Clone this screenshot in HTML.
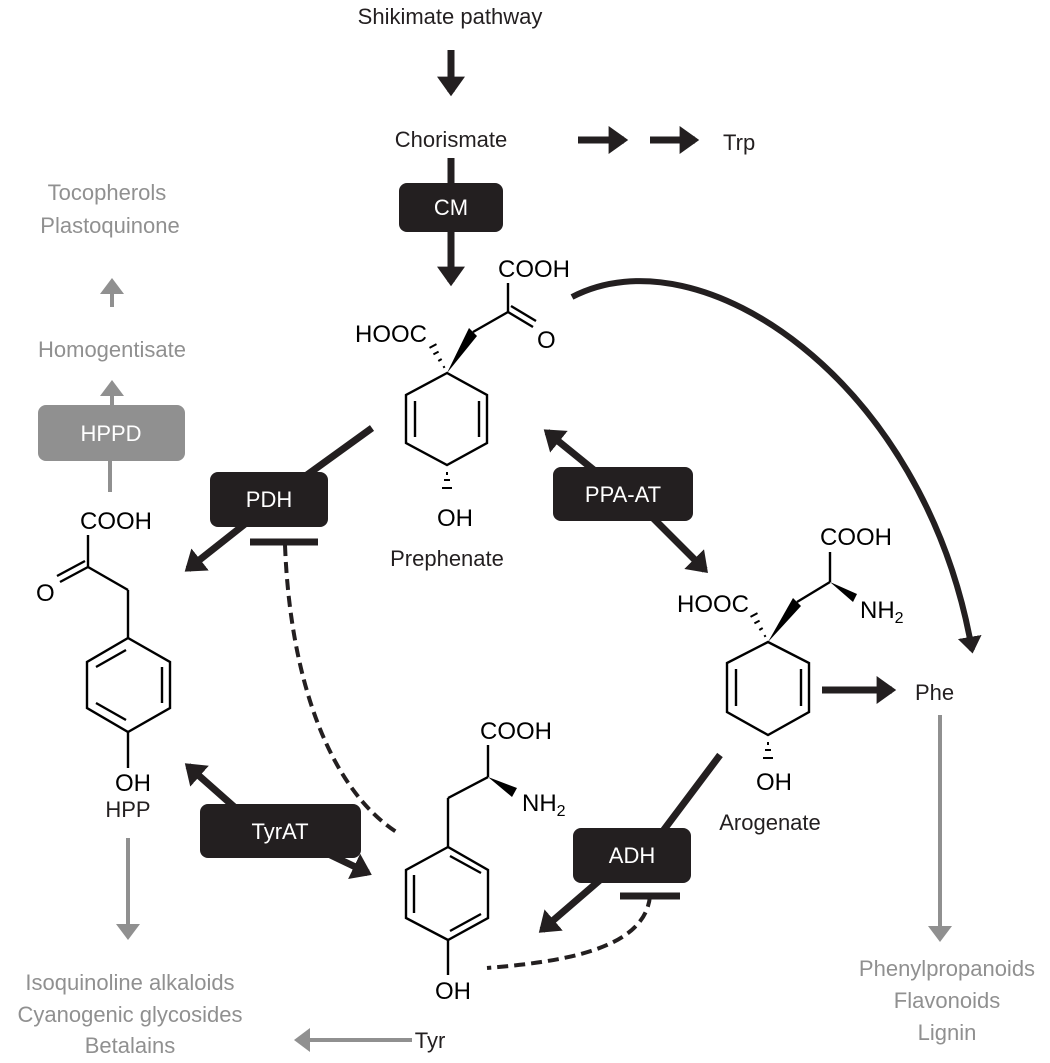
<!DOCTYPE html>
<html><head><meta charset="utf-8"><style>
html,body{margin:0;padding:0;background:#fff;}
svg{display:block;}
text{font-family:"Liberation Sans",sans-serif;}
</style></head><body>
<svg width="1050" height="1063" viewBox="0 0 1050 1063" xmlns="http://www.w3.org/2000/svg">
<defs>
<marker id="ah" markerWidth="4" markerHeight="4" refX="2.2" refY="2" orient="auto" markerUnits="strokeWidth"><path d="M0,0 L2.8,2 L0,4 Z" fill="#231f20"/></marker>
<marker id="ag" markerWidth="6" markerHeight="6" refX="3" refY="3" orient="auto" markerUnits="strokeWidth"><path d="M0,0 L4,3 L0,6 Z" fill="#909090"/></marker>
</defs>
<g fill="#231f20" font-size="22">
<text x="450" y="24" text-anchor="middle">Shikimate pathway</text>
<text x="451" y="147" text-anchor="middle">Chorismate</text>
<text x="723" y="150">Trp</text>
<text x="447" y="566" text-anchor="middle">Prephenate</text>
<text x="770" y="830" text-anchor="middle">Arogenate</text>
<text x="915" y="700">Phe</text>
<text x="128" y="817" text-anchor="middle">HPP</text>
<text x="430" y="1048" text-anchor="middle">Tyr</text>
</g>
<g fill="#909090" font-size="22" text-anchor="middle">
<text x="107" y="200">Tocopherols</text>
<text x="110" y="233">Plastoquinone</text>
<text x="112" y="357">Homogentisate</text>
<text x="947" y="976">Phenylpropanoids</text>
<text x="947" y="1008">Flavonoids</text>
<text x="947" y="1040">Lignin</text>
<text x="130" y="990">Isoquinoline alkaloids</text>
<text x="130" y="1022">Cyanogenic glycosides</text>
<text x="130" y="1053">Betalains</text>
</g>
<g stroke="#909090" stroke-width="4" fill="none">
<line x1="112" y1="307" x2="112" y2="282" marker-end="url(#ag)"/>
<line x1="112" y1="405" x2="112" y2="384" marker-end="url(#ag)"/>
<line x1="110" y1="461" x2="110" y2="492"/>
<line x1="940" y1="715" x2="940" y2="938" marker-end="url(#ag)"/>
<line x1="128" y1="838" x2="128" y2="936" marker-end="url(#ag)"/>
<line x1="412" y1="1040" x2="298" y2="1040" marker-end="url(#ag)"/>
</g>
<rect x="38" y="405" width="147" height="56" rx="8" fill="#909090"/>
<text x="111" y="441" fill="#fff" font-size="22" text-anchor="middle">HPPD</text>
<g stroke="#231f20" stroke-width="7" fill="none">
<line x1="451" y1="50" x2="451" y2="92" marker-end="url(#ah)"/>
<line x1="578" y1="140" x2="624" y2="140" marker-end="url(#ah)"/>
<line x1="650" y1="140" x2="695" y2="140" marker-end="url(#ah)"/>
<line x1="451" y1="158" x2="451" y2="282" marker-end="url(#ah)"/>
<line x1="822" y1="690" x2="892" y2="690" marker-end="url(#ah)"/>
<line x1="372" y1="428" x2="300" y2="480"/>
<line x1="250" y1="520" x2="188" y2="569" marker-end="url(#ah)"/>
<line x1="250" y1="542" x2="318" y2="542"/>
<line x1="600" y1="475" x2="547" y2="432" marker-end="url(#ah)"/>
<line x1="650" y1="515" x2="705" y2="570" marker-end="url(#ah)"/>
<line x1="240" y1="812" x2="188" y2="766" marker-end="url(#ah)"/>
<line x1="320" y1="850" x2="368" y2="873" marker-end="url(#ah)"/>
<line x1="720" y1="755" x2="660" y2="835"/>
<line x1="600" y1="880" x2="542" y2="930" marker-end="url(#ah)"/>
<line x1="620" y1="896" x2="680" y2="896"/>
<path d="M572,297 C700,230 925,380 972,650" stroke-width="6" marker-end="url(#ah)"/>
</g>
<g stroke="#231f20" stroke-width="4" fill="none" stroke-dasharray="11,6">
<path d="M285,545 C290,680 330,790 398,833"/>
<path d="M650,896 C645,950 560,962 487,968"/>
</g>
<g fill="#231f20">
<rect x="399" y="183" width="104" height="49" rx="8"/>
<rect x="210" y="472" width="118" height="55" rx="8"/>
<rect x="553" y="467" width="140" height="54" rx="8"/>
<rect x="200" y="804" width="161" height="54" rx="8"/>
<rect x="573" y="828" width="118" height="55" rx="8"/>
</g>
<g fill="#fff" font-size="22" text-anchor="middle">
<text x="451" y="215">CM</text>
<text x="269" y="507">PDH</text>
<text x="623" y="502">PPA-AT</text>
<text x="280" y="839">TyrAT</text>
<text x="632" y="863">ADH</text>
</g>
<g stroke="#000" stroke-width="2.4" fill="none">
<line x1="508" y1="283" x2="508" y2="312"/>
<line x1="508" y1="312" x2="473" y2="332"/>
<line x1="508" y1="312" x2="533" y2="327"/>
<line x1="511" y1="306" x2="536" y2="321"/>
<polygon points="447,373 406,395 406,443 447,465 487,443 487,395"/>
<line x1="415" y1="401" x2="415" y2="437"/>
<line x1="479" y1="401" x2="479" y2="437"/>
<line x1="830" y1="552" x2="830" y2="582"/>
<line x1="830" y1="582" x2="797" y2="602"/>
<polygon points="768,642 727,663 727,712 768,735 809,712 809,663"/>
<line x1="736" y1="669" x2="736" y2="706"/>
<line x1="801" y1="669" x2="801" y2="706"/>
<line x1="488" y1="745" x2="488" y2="777"/>
<line x1="488" y1="777" x2="448" y2="798"/>
<line x1="448" y1="798" x2="448" y2="847"/>
<polygon points="448,847 406,870 406,918 448,940 488,918 488,870"/>
<line x1="450" y1="856" x2="481" y2="873"/>
<line x1="414" y1="875" x2="414" y2="913"/>
<line x1="450" y1="931" x2="481" y2="914"/>
<line x1="448" y1="940" x2="448" y2="975"/>
<line x1="88" y1="535" x2="88" y2="567"/>
<line x1="88" y1="567" x2="128" y2="590"/>
<line x1="88" y1="567" x2="60" y2="582"/>
<line x1="85" y1="561" x2="57" y2="576"/>
<line x1="128" y1="590" x2="128" y2="638"/>
<polygon points="128,638 87,662 87,708 128,732 170,708 170,662"/>
<line x1="96" y1="667" x2="126" y2="650"/>
<line x1="162" y1="667" x2="162" y2="703"/>
<line x1="96" y1="703" x2="126" y2="720"/>
<line x1="128" y1="732" x2="128" y2="768"/>
</g>
<g fill="#000">
<polygon points="447,373 469,328 477,336"/>
<polygon points="768,642 793,598 801,606"/>
<polygon points="830,582 857,594 853,602"/>
<polygon points="488,777 517,788 512,797"/>
</g>
<g stroke="#000" stroke-width="2">
<line x1="443.1" y1="367.5" x2="444.9" y2="366.5"/><line x1="438.3" y1="361" x2="441.7" y2="359"/><line x1="433.4" y1="354.4" x2="438.6" y2="351.6"/><line x1="429.5" y1="347.9" x2="436.5" y2="344.1"/>
<line x1="764.1" y1="636.5" x2="765.9" y2="635.5"/><line x1="759.3" y1="630" x2="762.7" y2="628"/><line x1="754.4" y1="623.4" x2="759.6" y2="620.6"/><line x1="750.5" y1="616.9" x2="757.5" y2="613.1"/>
<line x1="447" y1="472" x2="447" y2="475"/><line x1="444" y1="480" x2="450" y2="480"/><line x1="442" y1="488" x2="452" y2="488"/>
<line x1="768" y1="742" x2="768" y2="745"/><line x1="765" y1="750" x2="771" y2="750"/><line x1="763" y1="758" x2="773" y2="758"/>
</g>
<g fill="#000" font-size="24">
<text x="498" y="277">COOH</text>
<text x="355" y="342">HOOC</text>
<text x="537" y="348">O</text>
<text x="437" y="526">OH</text>
<text x="820" y="545">COOH</text>
<text x="677" y="612">HOOC</text>
<text x="860" y="618">NH<tspan font-size="16" dy="5">2</tspan></text>
<text x="756" y="790">OH</text>
<text x="480" y="739">COOH</text>
<text x="522" y="811">NH<tspan font-size="16" dy="5">2</tspan></text>
<text x="435" y="999">OH</text>
<text x="80" y="529">COOH</text>
<text x="36" y="601">O</text>
<text x="115" y="791">OH</text>
</g>
</svg>
</body></html>
